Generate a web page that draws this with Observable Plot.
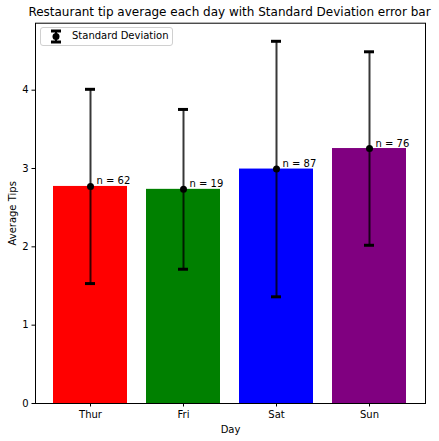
<!DOCTYPE html>
<html>
<head>
<meta charset="utf-8">
<script src="https://cdn.jsdelivr.net/npm/d3@7"></script>
<script src="https://cdn.jsdelivr.net/npm/@observablehq/plot@0.6"></script>
<style>
  body { margin: 0; background: #fff; font-family: "DejaVu Sans", sans-serif; }
  #wrap { position: relative; width: 439px; height: 441px; }
  #title { font-size: 12px; line-height: 14px; height: 14px; padding-top: 5px; padding-left: 20px; text-align: center; white-space: nowrap; color: #000; }
  #legend { position: absolute; left: 40px; top: 27px; width: 131px; height: 17px; border: 1px solid #d0d0d0; border-radius: 3px; background: rgba(255,255,255,0.8); font-size: 10px; }
  #legend svg { position: absolute; left: 0; top: 0; }
  #legend span { position: absolute; left: 31px; top: 2px; line-height: 12px; }
</style>
</head>
<body>
<div id="wrap">
  <div id="title">Restaurant tip average each day with Standard Deviation error bar</div>
  <div id="chart"></div>
  <div id="legend">
    <svg width="30" height="17">
      <line x1="15" x2="15" y1="3" y2="14" stroke="#000" stroke-width="2"/>
      <line x1="10" x2="20" y1="3" y2="3" stroke="#000" stroke-width="3"/>
      <line x1="10" x2="20" y1="14" y2="14" stroke="#000" stroke-width="3"/>
      <circle cx="15" cy="8.5" r="3.5" fill="#000"/>
    </svg>
    <span>Standard Deviation</span>
  </div>
</div>
<script>
const days = ["Thur", "Fri", "Sat", "Sun"];
const meanTips = [2.771, 2.734, 2.993, 3.255];
const sdTips = [1.240, 1.020, 1.631, 1.235];
const counts = [62, 19, 87, 76];
const barColors = ["red", "green", "blue", "purple"];
const yTicks = [0, 1, 2, 3, 4];

const data = days.map((d, i) => ({
  day: d,
  mean: meanTips[i],
  lo: meanTips[i] - sdTips[i],
  hi: meanTips[i] + sdTips[i],
  n: counts[i],
  color: barColors[i]
}));

const chart = Plot.plot({
  width: 439,
  height: 422,
  marginTop: 3.7,
  marginBottom: 38,
  marginLeft: 35,
  marginRight: 14,
  style: { fontFamily: "DejaVu Sans", fontSize: "10px", color: "#000", background: "#fff" },
  x: { domain: days, paddingInner: 0.2, paddingOuter: 0.19, label: null },
  y: { domain: [0, 4.855], label: null },
  marks: [
    Plot.barY(data, { x: "day", y: "mean", fill: "color" }),
    Plot.ruleX(data, { x: "day", y1: "lo", y2: "hi", stroke: "#000", strokeOpacity: 0.78, strokeWidth: 2 }),
    Plot.tickY(data, { x: "day", y: "lo", stroke: "#000", strokeWidth: 3, insetLeft: 32, insetRight: 32 }),
    Plot.tickY(data, { x: "day", y: "hi", stroke: "#000", strokeWidth: 3, insetLeft: 32, insetRight: 32 }),
    Plot.dot(data, { x: "day", y: "mean", r: 3.5, fill: "#000" }),
    Plot.text(data, { x: "day", y: "mean", text: d => `n = ${d.n}`, textAnchor: "start", lineAnchor: "bottom", dx: 6, dy: -2, fill: "#000", fontSize: 10 }),
    Plot.axisY({ ticks: yTicks, tickFormat: d3.format("d"), tickSize: 3.5, tickPadding: 3.5, label: "Average Tips", labelAnchor: "center", labelArrow: "none", labelOffset: 27 }),
    Plot.axisX({ tickSize: 3.5, tickPadding: 3.5, label: "Day", labelAnchor: "center", labelArrow: "none", labelOffset: 29 }),
    Plot.frame({ stroke: "#000", strokeWidth: 1 })
  ]
});

d3.select("#chart").append(() => chart);
</script>
</body>
</html>
